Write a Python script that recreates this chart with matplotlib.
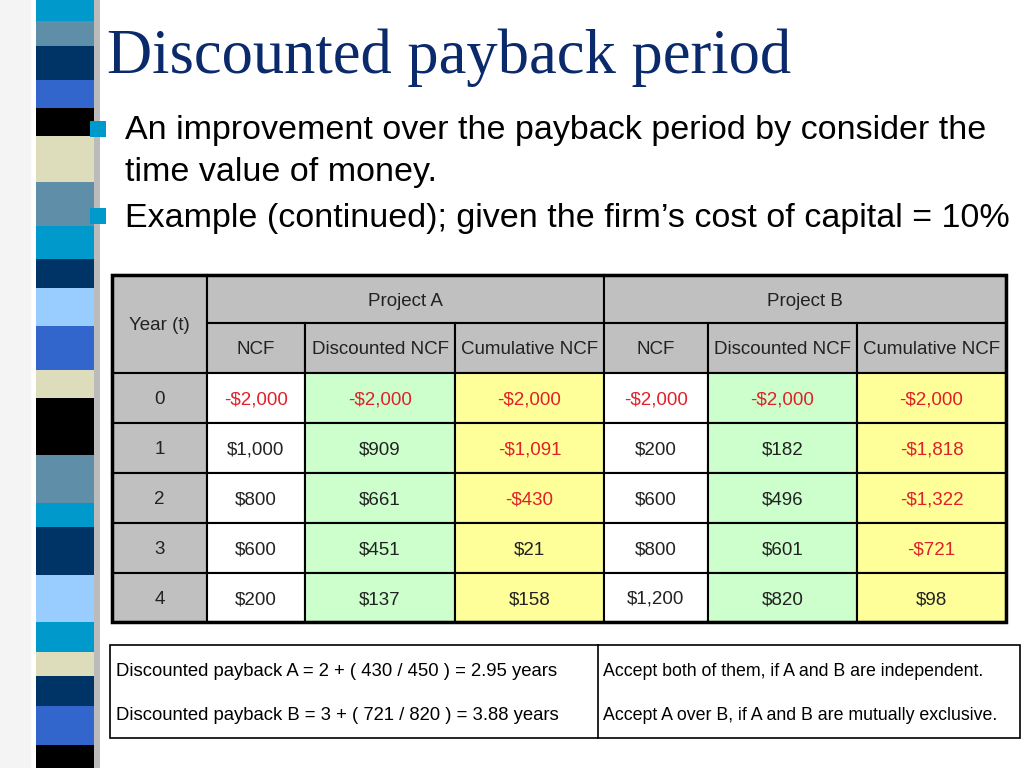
import matplotlib
matplotlib.use('Agg')
import matplotlib.pyplot as plt
import matplotlib.patches as mpatches

# ── Data ─────────────────────────────────────────────────────────────
years = [0, 1, 2, 3, 4]
a_ncf = [-2000, 1000, 800, 600, 200]
a_disc = [-2000, 909, 661, 451, 137]
a_cum = [-2000, -1091, -430, 21, 158]
b_ncf = [-2000, 200, 600, 800, 1200]
b_disc = [-2000, 182, 496, 601, 820]
b_cum = [-2000, -1818, -1322, -721, 98]
sub_headers = ['NCF', 'Discounted NCF', 'Cumulative NCF']

NAVY = '#0B2A6B'
GRAY = '#C0C0C0'
GREEN = '#CCFFCC'
YELLOW = '#FFFF99'
RED = '#E0202A'
TXT = '#222222'
FONT = ['Liberation Sans Narrow', 'Liberation Sans', 'DejaVu Sans']

fig = plt.figure(figsize=(10.24, 7.68), dpi=100)
ax = fig.add_axes([0, 0, 1, 1])
ax.set_xlim(0, 1024)
ax.set_ylim(768, 0)
ax.axis('off')

# ── Left decorative stripes ──────────────────────────────────────────
stripe_cols = ['#0099CC', '#5F8FA8', '#003366', '#3366CC', '#000000', '#DDDDBB',
               '#5F8FA8', '#0099CC', '#003366', '#99CCFF', '#3366CC', '#DDDDBB',
               '#000000', '#5F8FA8', '#0099CC', '#003366', '#99CCFF', '#0099CC',
               '#DDDDBB', '#003366', '#3366CC', '#000000']
stripe_h = [40, 50, 65, 55, 55, 90, 85, 65, 55, 75, 85, 55,
            110, 95, 45, 95, 90, 60, 45, 60, 75, 45]
scale = 768 / sum(stripe_h)
ax.add_patch(mpatches.Rectangle((0, 0), 30, 768, color='#F4F4F4', zorder=0))
y = 0
for c, h in zip(stripe_cols, stripe_h):
    ax.add_patch(mpatches.Rectangle((36, y), 58, h * scale, color=c, lw=0, zorder=1))
    y += h * scale
ax.add_patch(mpatches.Rectangle((94, 0), 6, 768, color='#BBBBBB', lw=0, zorder=1))

# ── Title and bullets ────────────────────────────────────────────────
ax.text(107, 58, 'Discounted payback period', fontsize=45, family='Liberation Serif',
        color=NAVY, va='center', ha='left')
for yy in (129, 216):
    ax.add_patch(mpatches.Rectangle((90, yy - 8), 16, 16, color='#0099CC', lw=0, zorder=2))
ax.text(125, 130, 'An improvement over the payback period by consider the',
        fontsize=24.5, family='Liberation Sans', va='center')
ax.text(125, 172, 'time value of money.', fontsize=24.5, family='Liberation Sans', va='center')
ax.text(125, 218, 'Example (continued); given the firm\u2019s cost of capital = 10%',
        fontsize=24.5, family='Liberation Sans', va='center')

# ── Table ────────────────────────────────────────────────────────────
xs = [112, 207, 305, 455, 604, 708, 857, 1006]
ys = [275, 323, 373, 423, 473, 523, 573, 622]

def cell(x0, x1, y0, y1, fc, text, color=TXT):
    ax.add_patch(mpatches.Rectangle((x0, y0), x1 - x0, y1 - y0, fc=fc, ec='black', lw=1.5, zorder=2))
    ax.text((x0 + x1) / 2, (y0 + y1) / 2, text, ha='center', va='center_baseline',
            fontsize=13.5, family=FONT, color=color, zorder=3)

def money(v):
    return ('-$' if v < 0 else '$') + f'{abs(v):,}'

cell(xs[0], xs[1], ys[0], ys[2], GRAY, 'Year (t)')
cell(xs[1], xs[4], ys[0], ys[1], GRAY, 'Project A')
cell(xs[4], xs[7], ys[0], ys[1], GRAY, 'Project B')
for j, h in enumerate(sub_headers * 2):
    cell(xs[j + 1], xs[j + 2], ys[1], ys[2], GRAY, h)

fills = ['white', GREEN, YELLOW] * 2
for i, yr in enumerate(years):
    y0, y1 = ys[i + 2], ys[i + 3]
    cell(xs[0], xs[1], y0, y1, GRAY, str(yr))
    row = [a_ncf[i], a_disc[i], a_cum[i], b_ncf[i], b_disc[i], b_cum[i]]
    for j, v in enumerate(row):
        cell(xs[j + 1], xs[j + 2], y0, y1, fills[j], money(v), RED if v < 0 else TXT)
ax.add_patch(mpatches.Rectangle((xs[0], ys[0]), xs[-1] - xs[0], ys[-1] - ys[0],
                                fill=False, ec='black', lw=2.5, zorder=4))

# ── Bottom note box ──────────────────────────────────────────────────
ax.add_patch(mpatches.Rectangle((110, 645), 910, 93, fc='white', ec='black', lw=1.2, zorder=2))
ax.plot([598, 598], [645, 738], color='black', lw=1.2, zorder=3)
ax.text(116, 671, 'Discounted payback A = 2 + ( 430 / 450 ) = 2.95 years', fontsize=13.3,
        family='Liberation Sans', va='center', zorder=3)
ax.text(116, 715, 'Discounted payback B = 3 + ( 721 / 820 ) = 3.88 years', fontsize=13.3,
        family='Liberation Sans', va='center', zorder=3)
ax.text(603, 671, 'Accept both of them, if A and B are independent.', fontsize=12.8,
        family='Liberation Sans', va='center', zorder=3)
ax.text(603, 715, 'Accept A over B, if A and B are mutually exclusive.', fontsize=12.8,
        family='Liberation Sans', va='center', zorder=3)

fig.savefig('out.png', dpi=100, facecolor='white')
